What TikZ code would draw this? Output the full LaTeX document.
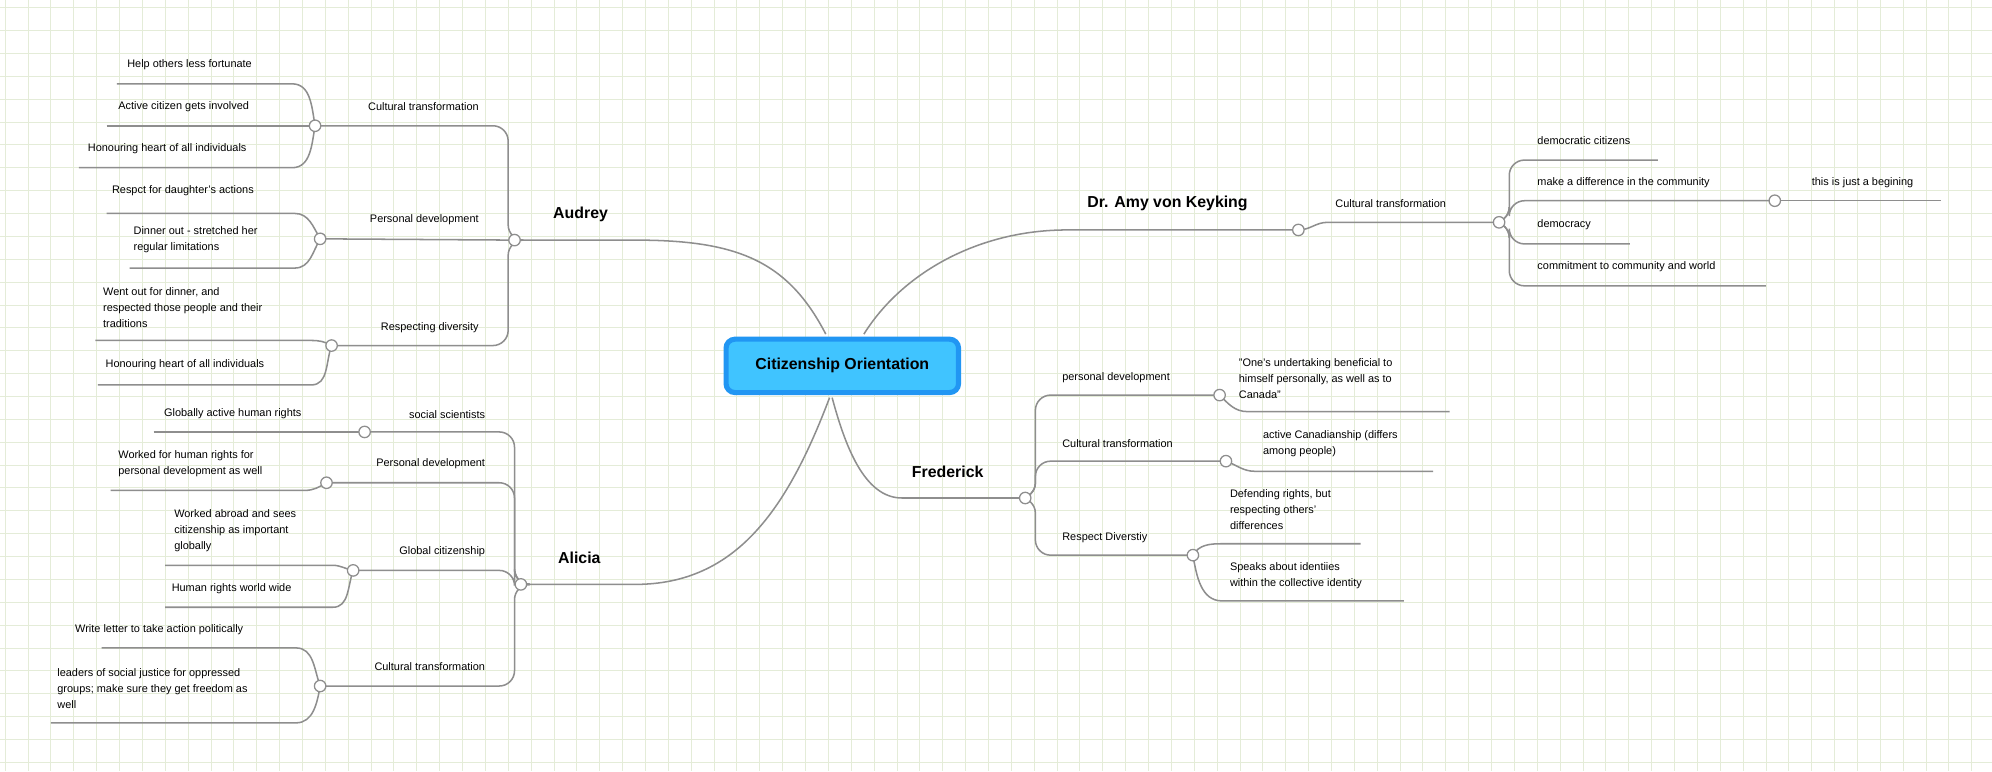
\documentclass[tikz,border=0pt]{standalone}
\usepackage{fontspec}
\setmainfont{Liberation Sans}
\usetikzlibrary{calc}
\definecolor{gridc}{HTML}{E4ECD8}
\definecolor{linec}{HTML}{8E8E8E}
\definecolor{boxo}{HTML}{2196F3}
\definecolor{boxi}{HTML}{40C4FF}
\tikzset{
  lf/.style={font=\fontsize{8.6}{12.5}\selectfont, inner sep=0pt, align=left},
  br/.style={font=\fontsize{8.6}{12.5}\selectfont, inner sep=0pt},
  mainb/.style={font=\bfseries\fontsize{12.5}{14}\selectfont, inner sep=0pt},
  dot/.style={circle, draw=linec, fill=white, line width=1pt, minimum size=9pt, inner sep=0pt},
  ln/.style={draw=linec, line width=1.2pt},
  tr/.style={ln, rounded corners=12pt}
}
\begin{document}
\begin{tikzpicture}[x=1pt,y=-1pt]
\useasboundingbox (0,0) rectangle (1568,607);
\fill[white] (0,0) rectangle (1568,607);
\foreach \i in {0,...,87} {\draw[gridc, line width=0.6pt] (\i*18+4,0) -- (\i*18+4,607);}
\foreach \j in {0,...,34} {\draw[gridc, line width=0.6pt] (0,\j*18+6) -- (1568,\j*18+6);}

% central
\node[draw=boxo, line width=4pt, fill=boxi, rounded corners=7pt, minimum width=183pt, minimum height=42pt, font=\bfseries\fontsize{12.5}{14}\selectfont] (cen) at (663,288) {Citizenship Orientation};

% main node positions
\coordinate (A) at (405,189);
\coordinate (D) at (1022,181);
\coordinate (F) at (807,392);
\coordinate (L) at (410,460);
\node[mainb] (tA) at (457,169) {Audrey};
\node[mainb] (tD) at (919,160) {Dr. Amy von Keyking};
\node[mainb] (tF) at (746,371) {Frederick};
\node[mainb] (tL) at (456,439) {Alicia};

% centre connectors
\draw[ln] ($(cen.north)+(-13,-2)$) .. controls (620,205) and (580,189) .. (500,189) -- (A);
\draw[ln] ($(cen.north)+(17,-2)$) .. controls (710,215) and (770,181) .. (840,181) -- (D);
\draw[ln] ($(cen.south)+(-8,2)$) .. controls (665,350) and (680,392) .. (710,392) -- (F);
\draw[ln] ($(cen.south)+(-10,2)$) .. controls (620,400) and (580,460) .. (500,460) -- (L);

% ---------- Audrey ----------
\coordinate (a1) at (248,99);
\coordinate (a2) at (252,188);
\coordinate (a3) at (261,272);
\node[br, anchor=east] at (377,84) {Cultural transformation};
\node[br, anchor=east] at (377,173) {Personal development};
\node[br, anchor=east] at (377,258) {Respecting diversity};
\draw[tr] (A) -- (400,189) -- (400,99) -- (a1);
\draw[ln] (A) -- (a2);
\draw[tr] (A) -- (400,189) -- (400,272) -- (a3);

\node[lf, anchor=west] at (100,51) {Help others less fortunate};
\node[lf, anchor=west] at (93,84) {Active citizen gets involved};
\node[lf, anchor=west] at (69,117) {Honouring heart of all individuals};
\coordinate (a11) at (92,66); \coordinate (a12) at (84,99); \coordinate (a13) at (62,132);
\draw[ln] (a11) -- (230,66) to[out=0,in=100] (a1);
\draw[ln] (a12) -- (a1);
\draw[ln] (a13) -- (230,132) to[out=0,in=-100] (a1);

\node[lf, anchor=west] at (88,150) {Respct for daughter's actions};
\node[lf, anchor=west] at (105,189) {Dinner out - stretched her\\regular limitations};
\coordinate (a21) at (84,168); \coordinate (a22) at (102,211);
\draw[ln] (a21) -- (232,168) to[out=0,in=120] (a2);
\draw[ln] (a22) -- (232,211) to[out=0,in=-120] (a2);

\node[lf, anchor=west] at (81,242) {Went out for dinner, and\\respected those people and their\\traditions};
\node[lf, anchor=west] at (83,287) {Honouring heart of all individuals};
\coordinate (a31) at (75,268); \coordinate (a32) at (77,303);
\draw[ln] (a31) -- (245,268) to[out=0,in=150] (a3);
\draw[ln] (a32) -- (245,303) to[out=0,in=-110] (a3);

% ---------- Dr. Amy ----------
\coordinate (d1) at (1180,175);
\node[br, anchor=west] at (1051,160) {Cultural transformation};
\draw[ln] (D) to[out=0,in=180] (1045,175) -- (d1);
\coordinate (d12) at (1397,158);
\coordinate (d11e) at (1305,126); \coordinate (d13e) at (1283,192); \coordinate (d14e) at (1390,225);
\coordinate (d121e) at (1528,158);
\draw[tr] (d1) -- (1188,175) -- (1188,126) -- (d11e);
\draw[tr] (d1) -- (1188,175) -- (1188,158) -- (d12);
\draw[tr] (d1) -- (1188,175) -- (1188,192) -- (d13e);
\draw[tr] (d1) -- (1188,175) -- (1188,225) -- (d14e);
\draw[ln] (d12) -- (d121e);
\node[lf, anchor=west] at (1210,111) {democratic citizens};
\node[lf, anchor=west] at (1210,144) {make a difference in the community};
\node[lf, anchor=west] at (1426,144) {this is just a begining};
\node[lf, anchor=west] at (1210,177) {democracy};
\node[lf, anchor=west] at (1210,210) {commitment to community and world};

% ---------- Frederick ----------
\coordinate (f1) at (960,311);
\coordinate (f2) at (965,363);
\coordinate (f3) at (939,437);
\node[br, anchor=west] at (836,297) {personal development};
\node[br, anchor=west] at (836,349) {Cultural transformation};
\node[br, anchor=west] at (836,423) {Respect Diverstiy};
\draw[tr] (F) -- (815,392) -- (815,311) -- (f1);
\draw[tr] (F) -- (815,392) -- (815,363) -- (f2);
\draw[tr] (F) -- (815,392) -- (815,437) -- (f3);
\node[lf, anchor=west] at (975,298) {"One's undertaking beneficial to\\himself personally, as well as to\\Canada"};
\coordinate (f11) at (1141,324);
\draw[ln] (f1) to[out=-45,in=180] (982,324) -- (f11);
\node[lf, anchor=west] at (994,349) {active Canadianship (differs\\among people)};
\coordinate (f21) at (1128,371);
\draw[ln] (f2) to[out=-20,in=180] (988,371) -- (f21);
\node[lf, anchor=west] at (968,401) {Defending rights, but\\respecting others'\\differences};
\node[lf, anchor=west] at (968,453) {Speaks about identiies\\within the collective identity};
\coordinate (f31) at (1071,428); \coordinate (f32) at (1105,473);
\draw[ln] (f3) to[out=60,in=180] (962,428) -- (f31);
\draw[ln] (f3) to[out=-80,in=180] (962,473) -- (f32);

% ---------- Alicia ----------
\coordinate (l1) at (287,340);
\coordinate (l2) at (257,380);
\coordinate (l3) at (278,449);
\coordinate (l4) at (252,540);
\node[br, anchor=east] at (382,326) {social scientists};
\node[br, anchor=east] at (382,365) {Personal development};
\node[br, anchor=east] at (382,434) {Global citizenship};
\node[br, anchor=east] at (382,525) {Cultural transformation};
\draw[tr] (L) -- (405,460) -- (405,340) -- (l1);
\draw[tr] (L) -- (405,460) -- (405,380) -- (l2);
\draw[tr] (L) -- (405,460) -- (405,449) -- (l3);
\draw[tr] (L) -- (405,460) -- (405,540) -- (l4);

\node[lf, anchor=west] at (129,326) {Globally active human rights};
\coordinate (l11) at (121,340);
\draw[ln] (l11) -- (l1);
\node[lf, anchor=west] at (93,365) {Worked for human rights for\\personal development as well};
\coordinate (l21) at (87,386);
\draw[ln] (l21) -- (240,386) to[out=0,in=-150] (l2);
\node[lf, anchor=west] at (137,418) {Worked abroad and sees\\citizenship as important\\globally};
\node[lf, anchor=west] at (135,463) {Human rights world wide};
\coordinate (l31) at (130,445); \coordinate (l32) at (130,478);
\draw[ln] (l31) -- (262,445) to[out=0,in=170] (l3);
\draw[ln] (l32) -- (262,478) to[out=0,in=-110] (l3);
\node[lf, anchor=west] at (59,496) {Write letter to take action politically};
\node[lf, anchor=west] at (45,542) {leaders of social justice for oppressed\\groups; make sure they get freedom as\\well};
\coordinate (l41) at (80,510); \coordinate (l42) at (40,569);
\draw[ln] (l41) -- (233,510) to[out=0,in=110] (l4);
\draw[ln] (l42) -- (233,569) to[out=0,in=-100] (l4);

% dots on top
\foreach \c in {A,D,F,L,a1,a2,a3,d1,d12,f1,f2,f3,l1,l2,l3,l4} {\node[dot] at (\c) {};}
\end{tikzpicture}
\end{document}
